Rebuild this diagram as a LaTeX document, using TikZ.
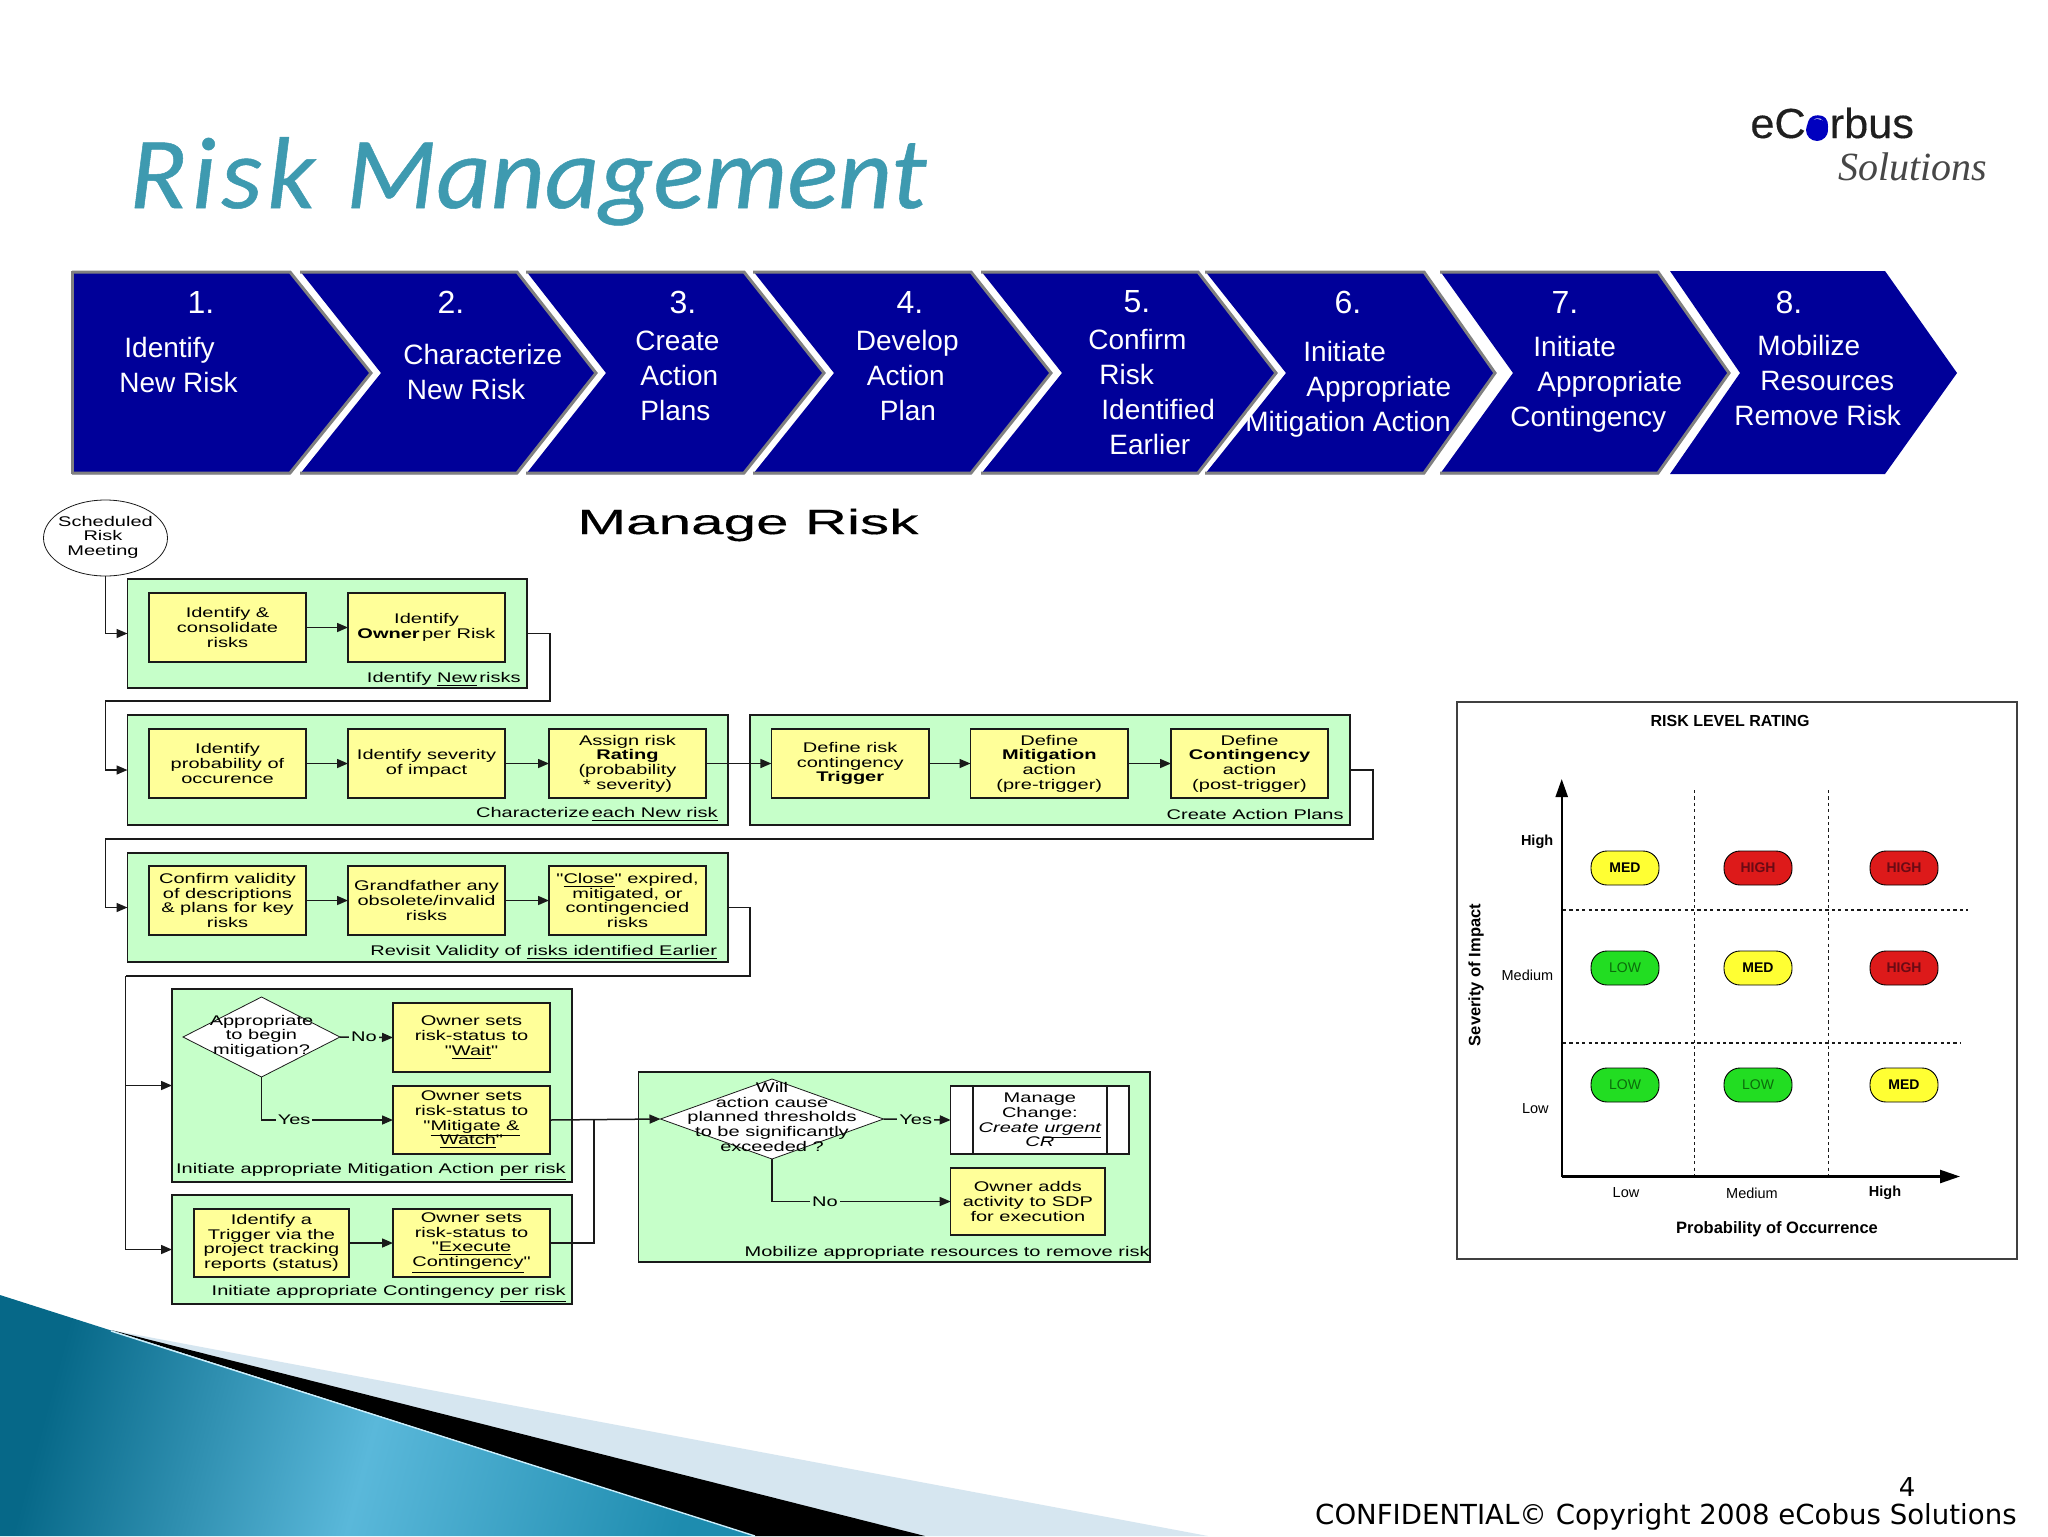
\documentclass[tikz,border=0pt]{standalone}
\usepackage{fontspec}
\usetikzlibrary{arrows.meta,shapes.geometric}
\setmainfont{Liberation Sans}
\newfontfamily\diagramface[FakeStretch=1.43]{Liberation Sans}
\newfontfamily\manageface[FakeStretch=1.67,FakeBold=.3]{Liberation Sans}
\newfontfamily\titleface[FakeStretch=1.035,FakeBold=.5]{Carlito}
\newfontfamily\serifface{Liberation Serif}
\newfontfamily\logoface[FakeStretch=1.03,FakeBold=.3]{Liberation Sans}
\newfontfamily\footface{DejaVu Sans}
\newcommand{\diagramfont}{\diagramface\fontsize{7}{7.35}\selectfont\lineskiplimit=-6pt\relax}
\newcommand{\bannerfont}{\fontsize{14}{17.5}\selectfont}
\newcommand{\gridfont}{\fontsize{7.25}{8.5}\selectfont}
\definecolor{navy}{HTML}{000099}
\definecolor{bordergray}{HTML}{808080}
\definecolor{groupgreen}{HTML}{C6FFC9}
\definecolor{boxyellow}{HTML}{FFFF99}
\definecolor{linedark}{HTML}{1A1A1A}
\definecolor{titleteal}{HTML}{3E9AB0}
\definecolor{pillyellow}{HTML}{FFFF33}
\definecolor{pillred}{HTML}{DD1A1A}
\definecolor{pillgreen}{HTML}{22DD22}
\definecolor{highink}{HTML}{6A0A14}
\definecolor{lowink}{HTML}{0B6B0B}
\tikzset{
  groupbox/.style={draw=linedark,fill=groupgreen,line width=.6pt,inner sep=0pt,outer sep=0pt},
  stepbox/.style={draw=linedark,fill=boxyellow,line width=.6pt,inner sep=0pt,outer sep=0pt,align=center,font=\diagramfont},
  procbox/.style={stepbox,fill=white},
  decision/.style={shape=diamond,draw=linedark,fill=white,line width=.4pt,inner sep=0pt,outer sep=0pt,font=\diagramfont},
  startnode/.style={shape=ellipse,draw=linedark,fill=white,line width=.4pt,inner sep=0pt,outer sep=0pt,align=center,font=\diagramfont},
  grouplabel/.style={anchor=east,inner sep=0pt,font=\diagramfont},
  conn/.style={draw=linedark,line width=.75pt},
  arrowconn/.style={conn,-{Triangle[length=5.5pt,width=4.5pt]}},
  edgetext/.style={fill=groupgreen,inner sep=1pt,font=\diagramfont},
  banner/.style={anchor=west,inner sep=0pt,align=left,text=white,font=\bannerfont},
  bannernum/.style={inner sep=0pt,text=white,font=\fontsize{16}{18}\selectfont},
  pill/.style={draw=black,line width=.45pt,rounded corners=8pt,minimum width=34pt,minimum height=17pt,inner sep=0pt,font=\fontsize{7}{8}\selectfont},
  medpill/.style={pill,fill=pillyellow,font=\fontsize{7}{8}\selectfont\bfseries},
  highpill/.style={pill,fill=pillred,text=highink,font=\fontsize{7}{8}\selectfont\bfseries},
  lowpill/.style={pill,fill=pillgreen,text=lowink},
  gridtext/.style={inner sep=0pt,font=\gridfont},
  griddash/.style={draw=linedark,line width=.55pt,dash pattern=on 1.6pt off 1.6pt},
}
\newcommand{\boxat}[7]{\node[#1,minimum width={(#5-#3)*0.5pt},minimum height={(#6-#4)*0.5pt}] (#2) at ({(#3+#5)/2},{(#4+#6)/2}) {#7};}
\newcommand{\overlaytext}[1]{\makebox[0pt][c]{\raisebox{-1.75pt}[0pt][0pt]{\begin{tabular}{@{}c@{}}#1\end{tabular}}}}
\newcommand{\chevfill}[4]{\fill[navy] (#1,271) -- (#2,271) -- (#3,373) -- (#2,474) -- (#1,474) -- (#4,373) -- cycle;}
\newcommand{\chevedge}[4]{\chevfill{#1}{#2}{#3}{#4}\draw[bordergray,line width=1.5pt,line join=miter] (#1,272) -- (#2,272) -- (#3,373) -- (#2,473) -- (#1,473);}
\begin{document}
\begin{tikzpicture}[x=0.5pt,y=-0.5pt]
\useasboundingbox (0,0) rectangle (2048,1536);
\fill[white] (0,0) rectangle (2048,1536);

% decorative corner
\fill[fill={rgb,255:red,214;green,230;blue,240}] (111,1330) -- (1208,1536) -- (755,1536) -- cycle;
\fill[black] (111,1330) -- (925,1536) -- (755,1536) -- cycle;
\shade[left color={rgb,255:red,6;green,104;blue,136},right color={rgb,255:red,30;green,140;blue,175},middle color={rgb,255:red,90;green,184;blue,218},shading angle=75] (0,1295) -- (755,1536) -- (0,1536) -- cycle;
\draw[white!80!cyan,line width=.7pt] (111,1331) -- (755,1536);

% title and logo
\node[anchor=base west,inner sep=0pt,text=titleteal,font=\titleface\itshape\fontsize{51}{51}\selectfont] (title) at (129,208) {{\addfontfeature{LetterSpace=5}Risk}\hspace{3.5pt} Management};
\fill[blue!75!black] (1817,130) circle (11);
\node[anchor=base west,inner sep=0pt,text=black!88,font=\logoface\fontsize{21}{21}\selectfont] (logo) at (1750,138) {eC\textcolor{blue!75!black}{o}rbus};
\node[anchor=base west,inner sep=0pt,text=black!72,font=\serifface\itshape\fontsize{20}{20}\selectfont] (logosub) at (1838,180) {Solutions};

% banner
\chevedge{72}{290}{371}{72}
\draw[bordergray,line width=1.5pt] (72,271) -- (72,474);
\chevedge{300}{517}{596}{381}
\chevedge{526}{744}{824}{606}
\chevedge{753}{971}{1051}{834}
\chevedge{981}{1198}{1276}{1062}
\chevedge{1205}{1424}{1495}{1286}
\chevedge{1440}{1658}{1729}{1513}
\chevfill{1670}{1885}{1957}{1740}
\node[bannernum] (n1) at (201,302) {1.};
\node[bannernum] (n2) at (451,302) {2.};
\node[bannernum] (n3) at (683,302) {3.};
\node[bannernum] (n4) at (910,302) {4.};
\node[bannernum] (n5) at (1137,302) {5.};
\node[bannernum] (n6) at (1348,302) {6.};
\node[bannernum] (n7) at (1565,302) {7.};
\node[bannernum] (n8) at (1789,302) {8.};
\node[banner] (b1) at (119,365) {\hspace*{2.5pt}Identify\\New Risk};
\node[banner] (b2) at (403,371.5) {Characterize\\\hspace*{1.75pt}New Risk};
\node[banner] (b3) at (635,376) {Create\\\hspace*{2.5pt}Action\\\hspace*{2.5pt}Plans};
\node[banner] (b4) at (855.5,375) {Develop\\\hspace*{5.5pt}Action\\\hspace*{12pt}Plan};
\node[banner] (b5) at (1088,392) {Confirm\\\hspace*{5.5pt}Risk\\\hspace*{6.5pt}Identified\\\hspace*{10.5pt}Earlier};
\node[banner] (b6) at (1245,389) {\hspace*{29pt}Initiate\\\hspace*{30.5pt}Appropriate\\Mitigation Action};
\node[banner] (b7) at (1510,384) {\hspace*{11.5pt}Initiate\\\hspace*{13.5pt}Appropriate\\Contingency};
\node[banner] (b8) at (1734,380) {\hspace*{11.5pt}Mobilize\\\hspace*{13pt}Resources\\Remove Risk};

% flow heading
\node[anchor=base west,inner sep=0pt,font=\manageface\fontsize{17.5}{17.5}\selectfont] (manage) at (577,534) {Manage Risk};

% groups
\boxat{groupbox}{g1}{127.5}{579}{527}{688}{}
\boxat{groupbox}{g2}{127.5}{715}{728}{825}{}
\boxat{groupbox}{g3}{750}{715}{1350}{825}{}
\boxat{groupbox}{g4}{127.5}{853}{728}{962}{}
\boxat{groupbox}{g5}{172}{989}{572}{1182}{}
\boxat{groupbox}{g6}{172}{1195}{572}{1304}{}
\boxat{groupbox}{g7}{638.6}{1072}{1150}{1262}{}

% start
\node[startnode,minimum width=62pt,minimum height=38pt] (start) at (105.5,538) {\overlaytext{Scheduled\\Risk\hspace*{2.5pt}\\Meeting\hspace*{2.5pt}}};

% steps
\boxat{stepbox}{s1a}{149}{593}{306}{662}{Identify \&\\consolidate\\risks}
\boxat{stepbox}{s1b}{348}{593}{505}{662}{Identify\\\textbf{Owner}\,per Risk}
\boxat{stepbox}{s2a}{149}{729}{306}{798}{Identify\\probability of\\occurence}
\boxat{stepbox}{s2b}{348}{729}{505}{798}{Identify severity\\of impact}
\boxat{stepbox}{s2c}{549}{729}{706}{798}{Assign risk\\\textbf{Rating}\\(probability\\* severity)}
\boxat{stepbox}{s3a}{771.4}{729}{929}{798}{Define risk\\contingency\\\textbf{Trigger}}
\boxat{stepbox}{s3b}{970.5}{729}{1128}{798}{Define\\\textbf{Mitigation}\\action\\(pre-trigger)}
\boxat{stepbox}{s3c}{1171}{729}{1328}{798}{Define\\\textbf{Contingency}\\action\\(post-trigger)}
\boxat{stepbox}{s4a}{149}{866}{306}{935}{Confirm validity\\of descriptions\\\& plans for key\\risks}
\boxat{stepbox}{s4b}{348}{866}{505}{935}{Grandfather any\\obsolete/invalid\\risks}
\boxat{stepbox}{s4c}{549}{866}{706}{935}{"\underline{Close}" expired,\\mitigated, or\\contingencied\\risks}
\boxat{stepbox}{s5a}{393}{1003}{550}{1072}{Owner sets\\risk-status to\\"\underline{Wait}"}
\boxat{stepbox}{s5b}{393}{1086}{550}{1154}{Owner sets\\risk-status to\\"\underline{Mitigate \&}\\\underline{Watch}"}
\boxat{stepbox}{s6a}{194}{1209}{349}{1277}{Identify a\\Trigger via the\\project tracking\\reports (status)}
\boxat{stepbox}{s6b}{393}{1209}{550}{1277}{Owner sets\\risk-status to\\"\underline{Execute}\\\underline{Contingency}"}
\boxat{procbox}{s7a}{950.7}{1086}{1129}{1154}{Manage\\Change:\\\textit{Create \underline{urgent}}\\\textit{CR}}
\boxat{stepbox}{s7b}{950.7}{1168}{1105}{1235}{Owner adds\\activity to SDP\\for execution}
\draw[linedark,line width=.6pt] (973,1086) -- (973,1154) (1107,1086) -- (1107,1154);

% decisions
\node[decision,minimum width=78.5pt,minimum height=40pt] (d1) at (261.5,1037) {\overlaytext{Appropriate\\to begin\\mitigation?}};
\node[decision,minimum width=111.5pt,minimum height=40pt] (d2) at (772,1119) {\overlaytext{Will\\action cause\\planned thresholds\\to be significantly\\exceeded ?}};

% routing points
\coordinate (r1) at (550,701); \coordinate (l1) at (105.5,701);
\coordinate (r2) at (1373,839); \coordinate (l2) at (105.5,839);
\coordinate (r3) at (750,976); \coordinate (l3) at (125.7,976);
\coordinate (j2) at (594,1120);

% connectors
\draw[arrowconn] (start.south) |- (g1.west);
\draw[arrowconn] (g1.east) -| (r1) -- (l1) |- (g2.west);
\draw[arrowconn] (s1a.east) -- (s1b.west);
\draw[arrowconn] (s2a.east) -- (s2b.west);
\draw[arrowconn] (s2b.east) -- (s2c.west);
\draw[arrowconn] (s2c.east) -- (s3a.west);
\draw[arrowconn] (s3a.east) -- (s3b.west);
\draw[arrowconn] (s3b.east) -- (s3c.west);
\draw[arrowconn] (g3.east) -| (r2) -- (l2) |- (g4.west);
\draw[arrowconn] (s4a.east) -- (s4b.west);
\draw[arrowconn] (s4b.east) -- (s4c.west);
\draw[conn] (g4.east) -| (r3) -- (l3);
\draw[arrowconn] (l3) |- (g6.west);
\draw[arrowconn] (l3 |- g5.west) -- (g5.west);
\draw[arrowconn] (d1.east) -- node[edgetext,pos=.45] (no1) {No} (s5a.west);
\draw[arrowconn] (d1.south) |- node[edgetext,pos=.624] (yes1) {Yes} (s5b.west);
\draw[arrowconn] (s6a.east) -- (s6b.west);
\draw[arrowconn] (s5b.east) -- (d2.west);
\draw[conn] (s6b.east) -| (j2);
\draw[arrowconn] (d2.east) -- node[edgetext,pos=.48] (yes2) {Yes} (s7a.west);
\draw[arrowconn] (d2.south) |- node[edgetext,pos=.648] (no2) {No} (s7b.west);

% group captions
\node[grouplabel] (c1) at (521,679) {Identify \underline{New}\,risks};
\node[grouplabel] (c2) at (718,814) {Characterize\,\underline{each New risk}};
\node[grouplabel] (c3) at (1344,814) {Create Action Plans};
\node[grouplabel] (c4) at (717.5,952) {Revisit Validity of \underline{risks identified Earlier}};
\node[grouplabel] (c5) at (566,1172) {Initiate appropriate Mitigation Action \underline{per risk}};
\node[grouplabel] (c6) at (566,1294) {Initiate appropriate Contingency \underline{per risk}};
\node[grouplabel] (c7) at (1150,1253) {Mobilize appropriate resources to remove risk};

% risk level rating
\draw[draw=black!75,line width=.75pt] (1457,702) rectangle (2017,1259);
\node[inner sep=0pt,font=\fontsize{8}{9}\selectfont\bfseries] (rtitle) at (1730,721) {RISK LEVEL RATING};
\draw[griddash] (1694.5,790) -- (1694.5,1176);
\draw[griddash] (1828.4,790) -- (1828.4,1176);
\draw[griddash] (1563,910) -- (1968,910);
\draw[griddash] (1563,1043) -- (1960,1043);
\coordinate (orig) at (1561.7,1176.5);
\coordinate (ytop) at (1561.7,779);
\coordinate (xend) at (1960,1176.5);
\draw[black,line width=1.2pt,-{Triangle[length=9pt,width=6pt]}] (orig) -- (ytop);
\draw[black,line width=1.2pt,-{Triangle[length=10pt,width=6.5pt]}] (orig) -- (xend);
\node[medpill] (p11) at (1625,868) {MED};
\node[highpill] (p12) at (1758,868) {HIGH};
\node[highpill] (p13) at (1904,868) {HIGH};
\node[lowpill] (p21) at (1625,968) {LOW};
\node[medpill] (p22) at (1758,968) {MED};
\node[highpill] (p23) at (1904,968) {HIGH};
\node[lowpill] (p31) at (1625,1085) {LOW};
\node[lowpill] (p32) at (1758,1085) {LOW};
\node[medpill] (p33) at (1904,1085) {MED};
\node[gridtext,anchor=east,font=\gridfont\bfseries] (yh) at (1553.6,842) {High};
\node[gridtext,anchor=east] (ym) at (1553.6,975) {Medium};
\node[gridtext,anchor=east] (yl) at (1549,1109) {Low};
\node[gridtext] (xl) at (1626,1193) {Low};
\node[gridtext] (xm) at (1752,1193) {Medium};
\node[gridtext,font=\gridfont\bfseries] (xh) at (1885,1193) {High};
\node[inner sep=0pt,font=\fontsize{8.25}{9}\selectfont\bfseries] (xaxis) at (1777,1229) {Probability of Occurrence};
\node[inner sep=0pt,rotate=90,font=\fontsize{8.25}{9}\selectfont\bfseries] (yaxis) at (1476,975) {Severity of Impact};

% footer
\node[inner sep=0pt,font=\footface\fontsize{13}{13}\selectfont] (pageno) at (1907,1487) {4};
\node[anchor=east,inner sep=0pt,font=\footface\fontsize{13.8}{13.8}\selectfont] (foot) at (2017,1517) {CONFIDENTIAL© Copyright 2008 eCobus Solutions};
\end{tikzpicture}
\end{document}
